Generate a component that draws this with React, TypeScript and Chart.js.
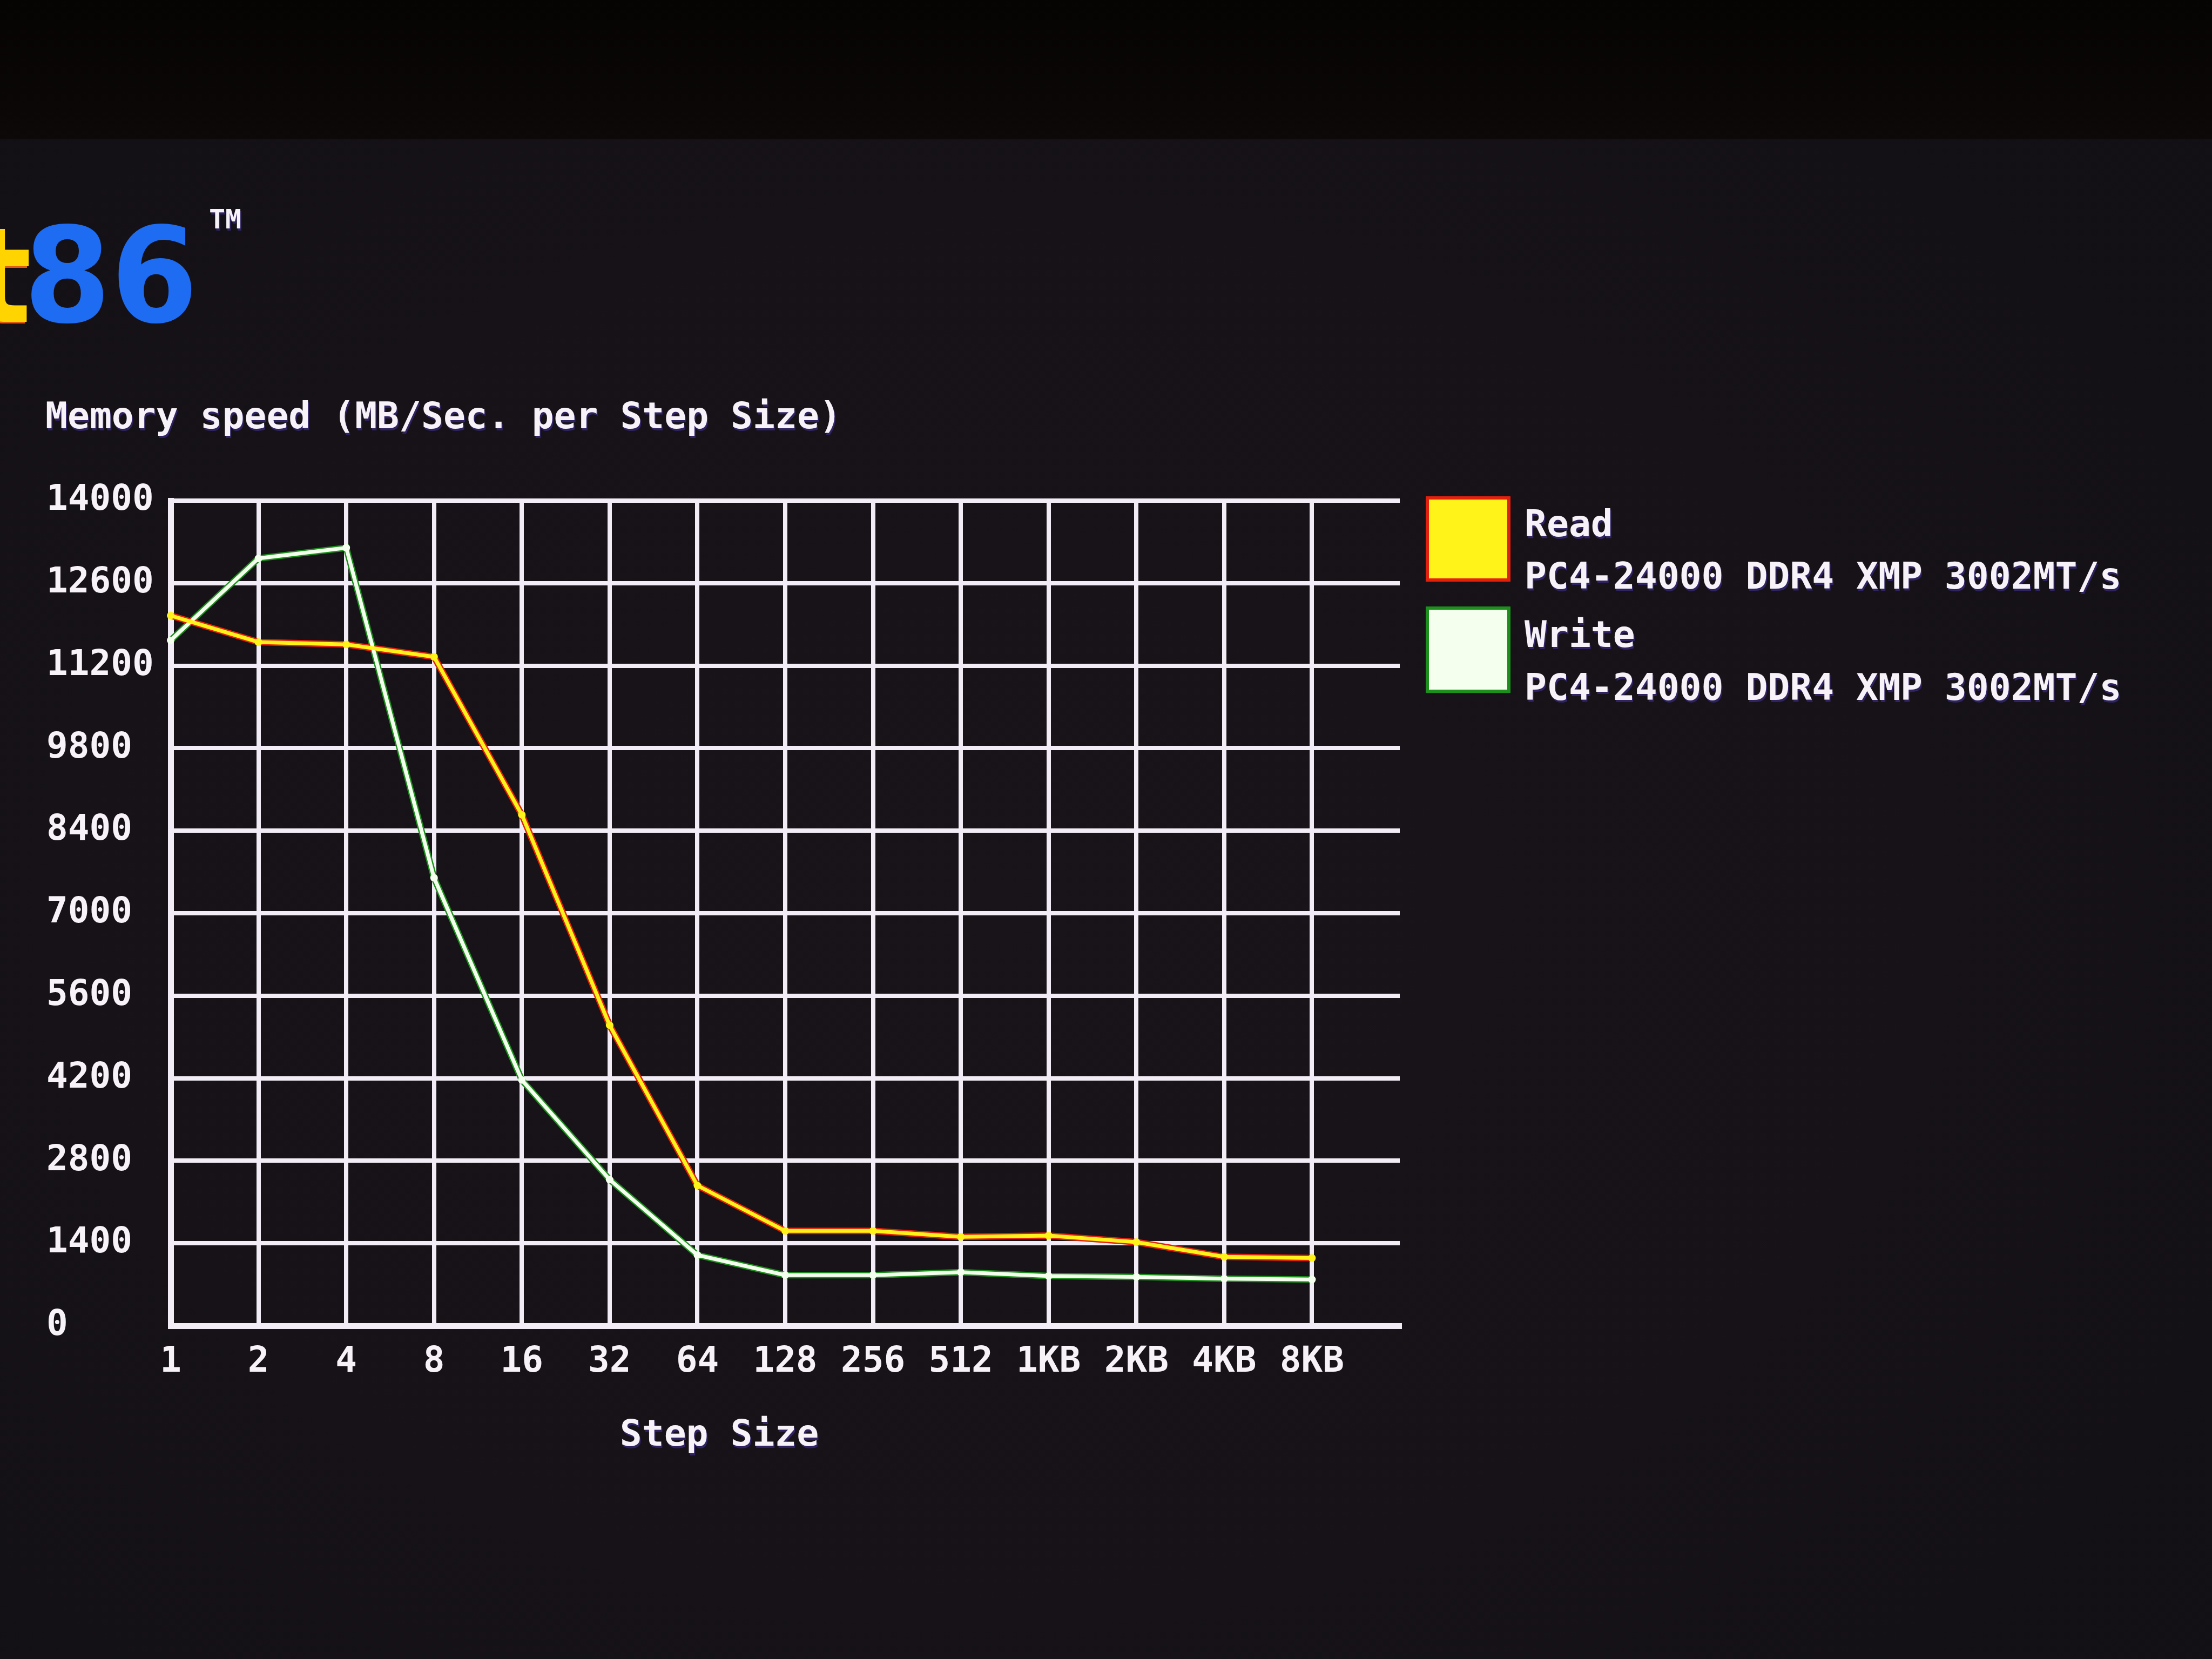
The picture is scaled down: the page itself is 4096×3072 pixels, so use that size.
import React, { useEffect, useRef } from 'react';
import { Chart, registerables } from 'chart.js';

Chart.register(...registerables);

// ---- data ----
const stepLabels = ['1', '2', '4', '8', '16', '32', '64', '128', '256', '512', '1KB', '2KB', '4KB', '8KB', ''];
const readSpeed = [12050, 11600, 11560, 11350, 8670, 5100, 2380, 1610, 1610, 1510, 1530, 1420, 1170, 1150];
const writeSpeed = [11630, 13020, 13200, 7600, 4170, 2480, 1200, 860, 860, 910, 845, 830, 800, 785];
const yMin = 0;
const yMax = 14000;
const yStep = 1400;
const seriesNames = ['Read', 'Write'];
const seriesDescriptions = ['PC4-24000 DDR4 XMP 3002MT/s', 'PC4-24000 DDR4 XMP 3002MT/s'];
const chartTitle = 'Memory speed (MB/Sec. per Step Size)';
const xAxisTitle = 'Step Size';

// ---- styles ----
const BG = '#161218';
const GRID = '#f1ecf5';
const TEXT = '#f6f2f8';
const MONO = "'DejaVu Sans Mono', monospace";
const readCore = '#fff31a';
const readGlow = '#e3200e';
const writeCore = '#f4ffee';
const writeGlow = '#1c8f1c';

const textShadow = '2px 4px 0 rgba(70,50,160,0.55)';

export default function App() {
  const canvasRef = useRef<HTMLCanvasElement | null>(null);

  useEffect(() => {
    const canvas = canvasRef.current;
    if (!canvas) return;
    const tickFont = { family: MONO, size: 66, weight: 'bold' as const };
    const chart = new Chart(canvas, {
      type: 'line',
      data: {
        labels: stepLabels,
        datasets: [
          {
            label: seriesNames[0] + ' glow',
            data: readSpeed,
            borderColor: readGlow,
            borderWidth: 12,
            pointRadius: 0,
            tension: 0,
            fill: false,
            order: 3,
          },
          {
            label: seriesNames[1] + ' glow',
            data: writeSpeed,
            borderColor: writeGlow,
            borderWidth: 12,
            pointRadius: 0,
            tension: 0,
            fill: false,
            order: 4,
          },
          {
            label: seriesNames[0],
            data: readSpeed,
            borderColor: readCore,
            borderWidth: 7,
            pointRadius: 7,
            pointBackgroundColor: readCore,
            pointBorderWidth: 0,
            tension: 0,
            fill: false,
            order: 1,
          },
          {
            label: seriesNames[1],
            data: writeSpeed,
            borderColor: writeCore,
            borderWidth: 7,
            pointRadius: 7,
            pointBackgroundColor: writeCore,
            pointBorderWidth: 0,
            tension: 0,
            fill: false,
            order: 2,
          },
        ],
      },
      options: {
        animation: false,
        responsive: false,
        maintainAspectRatio: false,
        layout: { padding: { left: 86, top: 127, right: 26, bottom: 0 } },
        plugins: {
          legend: { display: false },
          tooltip: { enabled: false },
          title: { display: false },
        },
        scales: {
          x: {
            type: 'category',
            offset: false,
            grid: {
              color: (ctx: any) => (ctx.index === stepLabels.length - 1 ? 'rgba(0,0,0,0)' : GRID),
              lineWidth: 8,
              drawTicks: false,
            },
            border: { display: true, color: GRID, width: 11 },
            ticks: {
              color: TEXT,
              font: tickFont,
              padding: 28,
              autoSkip: false,
              maxRotation: 0,
              minRotation: 0,
            },
            afterFit: (s: any) => {
              s.height = 145;
            },
          },
          y: {
            min: yMin,
            max: yMax,
            grid: { color: GRID, lineWidth: 8, drawTicks: false },
            border: { display: true, color: GRID, width: 11 },
            ticks: {
              stepSize: yStep,
              color: TEXT,
              font: tickFont,
              crossAlign: 'far',
              padding: 0,
              callback: (v: any) => String(v),
            },
            afterFit: (s: any) => {
              s.width = 230;
            },
          },
        },
      },
    });
    return () => chart.destroy();
  }, []);

  const abs = (extra: React.CSSProperties): React.CSSProperties => ({
    position: 'absolute',
    margin: 0,
    whiteSpace: 'pre',
    lineHeight: 1,
    ...extra,
  });

  const monoText = (extra: React.CSSProperties): React.CSSProperties =>
    abs({
      fontFamily: MONO,
      fontWeight: 'bold',
      fontSize: 68,
      color: TEXT,
      textShadow,
      ...extra,
    });

  return (
    <div
      style={{
        position: 'fixed',
        left: 0,
        top: 0,
        width: 4096,
        height: 3072,
        overflow: 'hidden',
        background: `radial-gradient(ellipse at 45% 55%, #181419 0%, ${BG} 55%, #121014 100%)`,
      }}
    >
      {/* top bezel band */}
      <div
        style={abs({
          left: 0,
          top: 0,
          width: 4096,
          height: 258,
          background: 'linear-gradient(#060303, #0b0707 80%, #0d0909)',
        })}
      />
      {/* logo fragment */}
      <div
        style={abs({
          left: -58,
          top: 390,
          fontFamily: "'DejaVu Sans', sans-serif",
          fontWeight: 'bold',
          fontSize: 244,
          color: '#ffd400',
          textShadow: '-3px 3px 0 #e05a10',
        })}
      >
        t
      </div>
      <div
        style={abs({
          left: 44,
          top: 390,
          fontFamily: "'DejaVu Sans', sans-serif",
          fontWeight: 'bold',
          fontSize: 244,
          color: '#1d6cf2',
          transform: 'scaleX(0.95)',
          transformOrigin: 'left top',
        })}
      >
        86
      </div>
      <div style={monoText({ left: 387, top: 381, fontSize: 50 })}>TM</div>

      {/* title */}
      <div style={monoText({ left: 84, top: 736 })}>{chartTitle}</div>

      {/* chart */}
      <canvas
        ref={canvasRef}
        width={2620}
        height={1800}
        style={{ position: 'absolute', left: 0, top: 800, width: 2620, height: 1800, display: 'block' }}
      />

      {/* x axis title */}
      <div style={monoText({ left: 1332, top: 2620, transform: 'translateX(-50%)' })}>{xAxisTitle}</div>

      {/* legend */}
      <div
        style={abs({
          left: 2640,
          top: 919,
          width: 157,
          height: 158,
          boxSizing: 'border-box',
          border: `6px solid ${readGlow}`,
          background: readCore,
        })}
      />
      <div
        style={abs({
          left: 2640,
          top: 1123,
          width: 157,
          height: 160,
          boxSizing: 'border-box',
          border: `6px solid ${writeGlow}`,
          background: writeCore,
        })}
      />
      <div style={monoText({ left: 2823, top: 936 })}>{seriesNames[0]}</div>
      <div style={monoText({ left: 2823, top: 1033 })}>{seriesDescriptions[0]}</div>
      <div style={monoText({ left: 2823, top: 1141 })}>{seriesNames[1]}</div>
      <div style={monoText({ left: 2823, top: 1239 })}>{seriesDescriptions[1]}</div>
    </div>
  );
}
